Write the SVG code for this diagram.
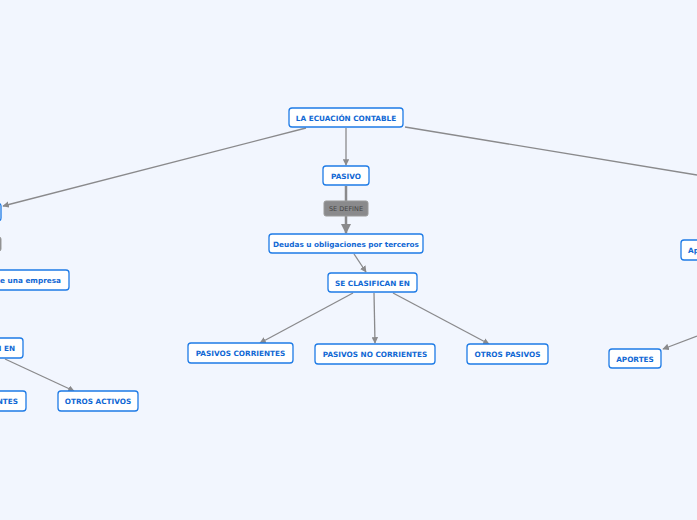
<svg xmlns="http://www.w3.org/2000/svg" width="697" height="520" viewBox="0 0 697 520">
<style>
.n rect{fill:#fff;stroke:#1e7be6;stroke-width:1.3}
.n text{font-family:"DejaVu Sans",sans-serif;font-weight:bold;font-size:7.3px;fill:#1168d4;text-anchor:middle}
.g rect{fill:#8a8a8c;stroke:#9a9a9a}
.g text{font-family:"DejaVu Sans",sans-serif;font-size:6.5px;fill:#444;text-anchor:middle}
.c path{fill:none;stroke:#8a8a8c;stroke-width:1.3}
.c path.t{stroke-width:2.5}
</style>
<defs>
<marker id="a" viewBox="0 0 10 10" refX="9" refY="5" markerWidth="5" markerHeight="5" orient="auto"><path d="M0,0L10,5L0,10z" fill="#8a8a8c"/></marker>
<marker id="b" viewBox="0 0 10 10" refX="9" refY="5" markerWidth="4" markerHeight="4" orient="auto"><path d="M0,0L10,5L0,10z" fill="#8a8a8c"/></marker>
</defs>
<rect width="697" height="520" fill="#f2f6fe"/>
<g class="c">
<path d="M306,128L3,206" marker-end="url(#a)"/>
<path d="M346,128V165" marker-end="url(#a)"/>
<path d="M405,127L697,175"/>
<path class="t" d="M346,186V201"/>
<path class="t" d="M346,216V233" marker-end="url(#b)"/>
<path d="M354,254L366,272" marker-end="url(#a)"/>
<path d="M353,293L260,343" marker-end="url(#a)"/>
<path d="M374,293L375,343" marker-end="url(#a)"/>
<path d="M393,293L489,344" marker-end="url(#a)"/>
<path d="M697,336L663,349" marker-end="url(#a)"/>
<path d="M5,359L74,391" marker-end="url(#a)"/>
<path d="M-10,221V237"/>
</g>
<g id="ecuacion" class="n"><rect x="289" y="108" width="114" height="19" rx="3"/><text x="346" y="120.5">LA ECUACIÓN CONTABLE</text></g>
<g id="pasivo" class="n"><rect x="323" y="166" width="46" height="19" rx="3"/><text x="346" y="178.5">PASIVO</text></g>
<g id="sedefine" class="g"><rect x="324" y="201" width="44" height="15" rx="2"/><text x="346" y="211">SE DEFINE</text></g>
<g id="deudas" class="n"><rect x="269" y="234" width="154" height="19" rx="3"/><text x="346" y="246.5">Deudas u obligaciones por terceros</text></g>
<g id="seclasifican" class="n"><rect x="328" y="273" width="89" height="19" rx="3"/><text x="372.5" y="285.5">SE CLASIFICAN EN</text></g>
<g id="pcorr" class="n"><rect x="188" y="343" width="105" height="20" rx="3"/><text x="240.5" y="356">PASIVOS CORRIENTES</text></g>
<g id="pnocorr" class="n"><rect x="315" y="344" width="120" height="20" rx="3"/><text x="375" y="357">PASIVOS NO CORRIENTES</text></g>
<g id="otrosp" class="n"><rect x="467" y="344" width="81" height="20" rx="3"/><text x="507.5" y="357">OTROS PASIVOS</text></g>
<g id="aportes" class="n"><rect x="609" y="349" width="52" height="19" rx="3"/><text x="635" y="361.5">APORTES</text></g>
<g id="ap" class="n"><rect x="681" y="240" width="40" height="20" rx="3"/><text x="681" y="253" style="text-anchor:start" dx="7">Ap</text></g>
<g id="activo" class="n"><rect x="-40" y="203" width="41" height="18" rx="3"/></g>
<g id="leftdef" class="g"><rect x="-30" y="237" width="31" height="14" rx="2"/></g>
<g id="bienes" class="n"><rect x="-80" y="270" width="149" height="20" rx="3"/><text x="61" y="283" style="text-anchor:end">ce una empresa</text></g>
<g id="clasif2" class="n"><rect x="-70" y="338" width="93" height="20" rx="3"/><text x="15" y="351" style="text-anchor:end">SE CLASIFICAN EN</text></g>
<g id="acorr" class="n"><rect x="-80" y="391" width="106" height="20" rx="3"/><text x="18" y="404" style="text-anchor:end">ACTIVOS CORRIENTES</text></g>
<g id="otrosa" class="n"><rect x="58" y="391" width="80" height="20" rx="3"/><text x="98" y="404">OTROS ACTIVOS</text></g>
</svg>
